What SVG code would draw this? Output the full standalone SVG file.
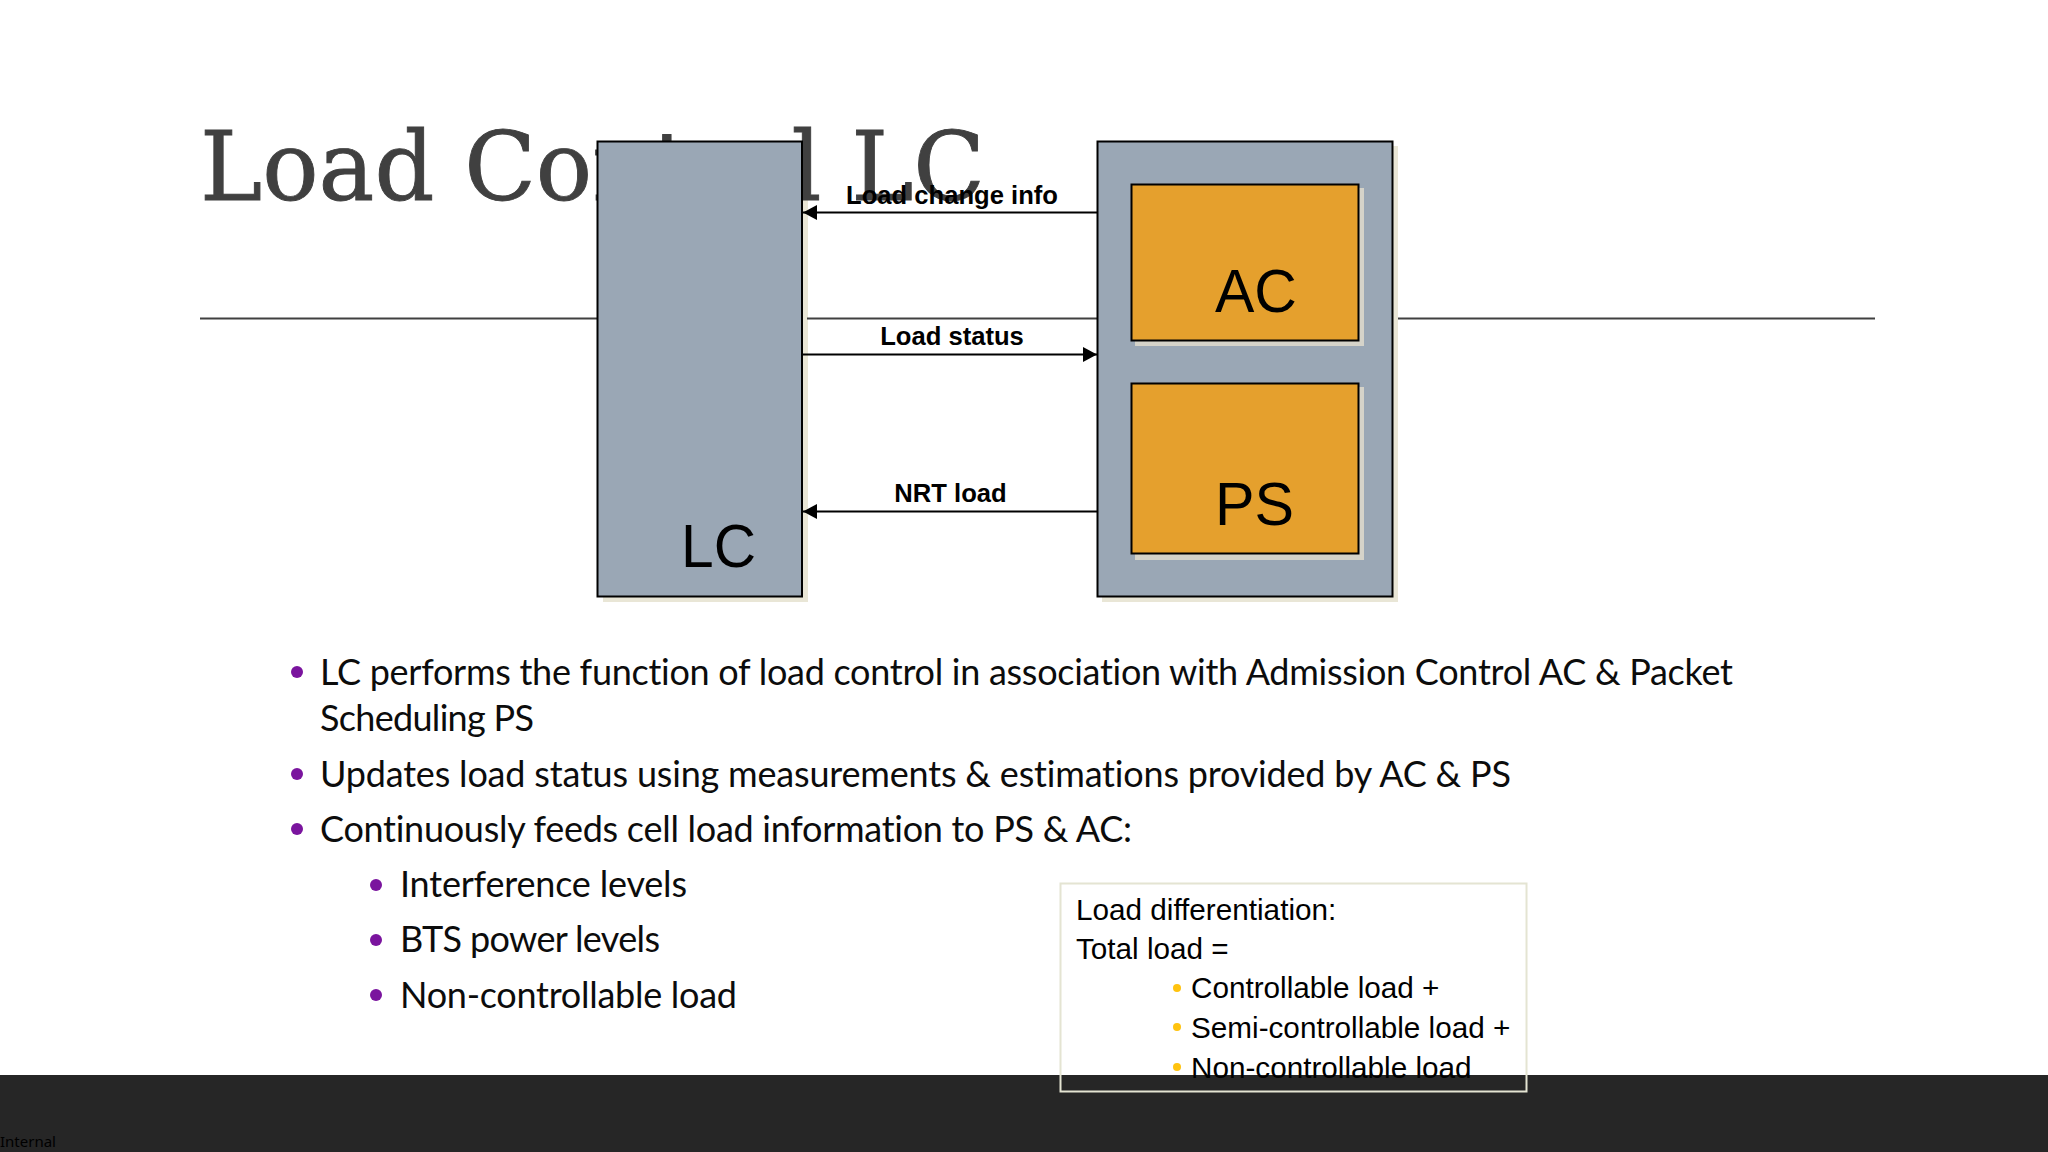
<svg xmlns="http://www.w3.org/2000/svg" width="2048" height="1152" viewBox="0 0 2048 1152">
<defs>
<marker id="ah" markerUnits="userSpaceOnUse" markerWidth="16" markerHeight="16" refX="14" refY="7.500" orient="auto"><path d="M0 0L14 7.500L0 15Z" fill="#000"/></marker>
</defs>
<style>
.t{font-family:"DejaVu Serif",serif;font-size:96px;fill:#404040;stroke:#404040;stroke-width:.9px}
.b{font-family:Lato,"Open Sans",sans-serif;font-size:36px;fill:#0c0c0c;font-variant-ligatures:none}
.a{font-family:"Liberation Sans",Arial,sans-serif;fill:#000}
.l{font-weight:700;font-size:25.600px;text-anchor:middle}
.n{font-size:62px}
.k{font-size:29.700px}
.box{fill:#9aa7b5;stroke:#000;stroke-width:2}
.or{fill:#e5a02d;stroke:#000;stroke-width:2}
.sh1{fill:#e9e6d6}
.sh2{fill:#d5d3c9}
.c{stroke:#000;stroke-width:2;fill:none}
.r{stroke:#404040;stroke-width:2}
.p{fill:#7a149e}
.y{fill:#ffc30f}
</style>
<rect width="2048" height="1152" fill="#fff"/>
<rect class="sh1" x="603" y="146" width="205" height="456"/>
<rect class="sh1" x="1102" y="146" width="296" height="456"/>
<g id="title">
<text class="t" x="200" y="200" textLength="785" lengthAdjust="spacingAndGlyphs">Load Control LC</text>
<line class="r" x1="200" y1="318.500" x2="597" y2="318.500"/>
<line class="r" x1="807" y1="318.500" x2="1097" y2="318.500"/>
<line class="r" x1="1398" y1="318.500" x2="1875" y2="318.500"/>
</g>
<g id="node-lc">
<rect class="box" x="597.500" y="141.500" width="204.500" height="455"/>
<text class="a n" x="681" y="567" textLength="75" lengthAdjust="spacingAndGlyphs">LC</text>
</g>
<g id="node-outer">
<rect class="box" x="1097.500" y="141.500" width="295" height="455"/>
</g>
<g id="node-ac">
<rect class="sh2" x="1135" y="188" width="229" height="158"/>
<rect class="or" x="1131.500" y="184.500" width="227" height="156"/>
<text class="a n" x="1215" y="312" textLength="82" lengthAdjust="spacingAndGlyphs">AC</text>
</g>
<g id="node-ps">
<rect class="sh2" x="1135" y="387" width="229" height="173"/>
<rect class="or" x="1131.500" y="383.500" width="227" height="170"/>
<text class="a n" x="1215" y="525" textLength="79" lengthAdjust="spacingAndGlyphs">PS</text>
</g>
<g id="connectors">
<line class="c" x1="1097" y1="212.500" x2="803" y2="212.500" marker-end="url(#ah)"/>
<line class="c" x1="803" y1="354.500" x2="1097" y2="354.500" marker-end="url(#ah)"/>
<line class="c" x1="1097" y1="511.500" x2="803" y2="511.500" marker-end="url(#ah)"/>
</g>
<g id="labels">
<text class="a l" x="952" y="204">Load change info</text>
<text class="a l" x="952" y="345">Load status</text>
<text class="a l" x="950.500" y="502">NRT load</text>
</g>
<g id="bullets">
<circle class="p" cx="297" cy="672" r="6"/>
<circle class="p" cx="297" cy="774" r="6"/>
<circle class="p" cx="297" cy="829" r="6"/>
<circle class="p" cx="376" cy="885" r="6"/>
<circle class="p" cx="376" cy="940" r="6"/>
<circle class="p" cx="376" cy="995" r="6"/>
<text class="b" x="320" y="685" textLength="1413">LC performs the function of load control in association with Admission Control AC &amp; Packet</text>
<text class="b" x="320" y="731" textLength="214">Scheduling PS</text>
<text class="b" x="320" y="786.500" textLength="1191">Updates load status using measurements &amp; estimations provided by AC &amp; PS</text>
<text class="b" x="320" y="841.500" textLength="812">Continuously feeds cell load information to PS &amp; AC:</text>
<text class="b" x="400" y="897" textLength="287">Interference levels</text>
<text class="b" x="400" y="952" textLength="260">BTS power levels</text>
<text class="b" x="400" y="1007.500" textLength="337">Non-controllable load</text>
</g>
<rect id="band" x="0" y="1075" width="2048" height="77" fill="#262626"/>
<g id="note">
<rect x="1060.500" y="883.500" width="466" height="208" fill="none" stroke="#e4e4d2" stroke-width="2"/>
<text class="a k" x="1076" y="920">Load differentiation:</text>
<text class="a k" x="1076" y="959">Total load =</text>
<circle class="y" cx="1177" cy="988" r="4"/>
<circle class="y" cx="1177" cy="1027" r="4"/>
<circle class="y" cx="1177" cy="1067" r="4"/>
<text class="a k" x="1191" y="998">Controllable load +</text>
<text class="a k" x="1191" y="1038">Semi-controllable load +</text>
<text class="a k" x="1191" y="1078">Non-controllable load</text>
</g>
<text x="0" y="1147" font-family="'Noto Sans',sans-serif" font-size="15" fill="#000">Internal</text>
</svg>
